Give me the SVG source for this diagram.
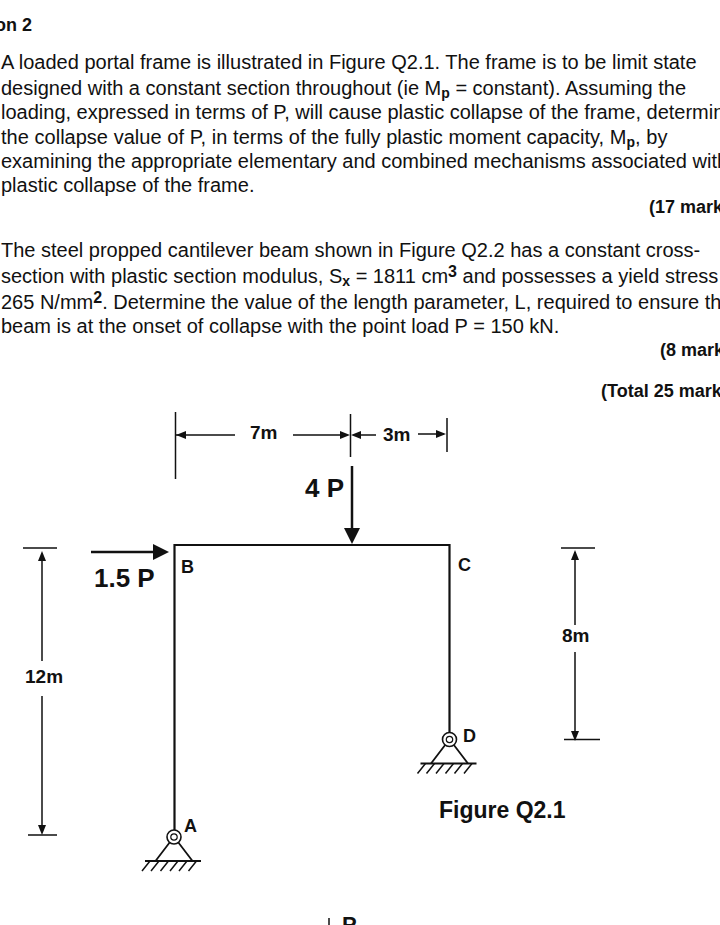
<svg xmlns="http://www.w3.org/2000/svg" width="720" height="925" viewBox="0 0 720 925">
<style>
text{font-family:"Liberation Sans",Arial,sans-serif;fill:#111}
.b{font-size:20px}
.h{font-weight:bold;font-size:18px}
.l{font-weight:bold;font-size:19px}
.big{font-weight:bold;font-size:26px}
.fig{font-weight:bold;font-size:23px}
.n{font-weight:bold;font-size:18px}
.sb{font-size:14px;font-weight:bold}
.sp{font-size:16px;font-weight:bold}
.f{stroke:#111;stroke-width:2.2;fill:none}
.t{stroke:#111;stroke-width:1.5;fill:none}
.load{stroke:#111;stroke-width:2.5;fill:none}
.hd{fill:#111;stroke:none}
</style>
<defs>
<g id="sup">
<path class="t" style="stroke-width:1.9" d="M-29,24H27"/>
<path class="t" style="stroke-width:1.8" d="M-18.500,24L-4,5M18.500,24L4,5"/>
<circle r="7" fill="#fff" stroke="#111" stroke-width="1.6"/>
<circle r="3.200" fill="#fff" stroke="#111" stroke-width="1.2"/>
<path class="t" d="M-32,34L-24,24M-23,34L-15,24M-13.500,34L-5.500,24M-4,34L4,24M5,34L13,24M14.500,34L22.500,24"/>
</g>
</defs>
<g id="text">
<text class="h" x="-5" y="31">on 2</text>
<text class="b" x="1" y="69">A loaded portal frame is illustrated in Figure Q2.1. The frame is to be limit state</text>
<text class="b" x="1" y="95">designed with a constant section throughout (ie M<tspan class="sb" dy="3">p</tspan><tspan dy="-3"> = constant). Assuming the</tspan></text>
<text class="b" x="1" y="119">loading, expressed in terms of P, will cause plastic collapse of the frame, determin</text>
<text class="b" x="1" y="144" word-spacing="0.2">the collapse value of P, in terms of the fully plastic moment capacity, M<tspan class="sb" dy="3">p</tspan><tspan dy="-3">, by</tspan></text>
<text class="b" x="1" y="168">examining the appropriate elementary and combined mechanisms associated with</text>
<text class="b" x="1" y="192">plastic collapse of the frame.</text>
<text class="h" x="649" y="213">(17 mark</text>
<text class="b" x="1" y="257">The steel propped cantilever beam shown in Figure Q2.2 has a constant cross-</text>
<text class="b" x="1" y="283">section with plastic section modulus, S<tspan class="sb" dy="3">x</tspan><tspan dy="-3"> = 1811 cm</tspan><tspan class="sp" dy="-6">3</tspan><tspan dy="6"> and possesses a yield stress</tspan></text>
<text class="b" x="1" y="308.500">265 N/mm<tspan class="sp" dy="-6">2</tspan><tspan dy="6">. Determine the value of the length parameter, L, required to ensure th</tspan></text>
<text class="b" x="1" y="333">beam is at the onset of collapse with the point load P = 150 kN.</text>
<text class="h" x="660" y="356">(8 mark</text>
<text class="h" x="601" y="397">(Total 25 mark</text>
</g>
<g id="frame">
<path class="f" d="M174.500,830V545H449.500V733"/>
<text class="n" x="181" y="573">B</text>
<text class="n" x="458" y="571">C</text>
</g>
<g id="support-A">
<use href="#sup" x="174" y="837"/>
<text class="n" x="184" y="832">A</text>
</g>
<g id="support-D">
<use href="#sup" x="449.500" y="739.500"/>
<text class="n" x="463" y="742">D</text>
</g>
<g id="connectors">
<path class="load" d="M91,552H155"/><path class="hd" d="M153,544L169,552L153,560Z"/>
<path class="load" d="M352,466V530"/><path class="hd" d="M344,528L352,544L360,528Z"/>
<path class="t" d="M175.500,412V479M176,435H235M293,435H347M350.500,414V457M354,435H376M418,434H444M447,418V452"/>
<path class="hd" d="M176,435L186,431V439ZM350,435L340,431V439ZM351,435L361,431V439ZM446,434L436,430V438Z"/>
<path class="t" d="M23,548H57M42,558V661M42,696V830M28,835H57"/>
<path class="hd" d="M42,551L38,561H46ZM42,835L38,825H46Z"/>
<path class="t" d="M561,548H595M575,552V625M575,652V735M564,739.500H600"/>
<path class="hd" d="M575,550L571,560H579ZM575,741L571,731H579Z"/>
</g>
<g id="labels">
<text class="big" x="94" y="587">1.5 P</text>
<text class="big" x="305" y="497">4 P</text>
<text class="l" x="250" y="439">7m</text>
<text class="l" x="383" y="441">3m</text>
<text class="l" x="25" y="683">12m</text>
<text class="l" x="562" y="642">8m</text>
<text class="fig" x="439" y="818">Figure Q2.1</text>
<path class="t" d="M329,918V925"/>
<text class="n" x="342" y="932" style="font-size:22px">P</text>
</g>
</svg>
